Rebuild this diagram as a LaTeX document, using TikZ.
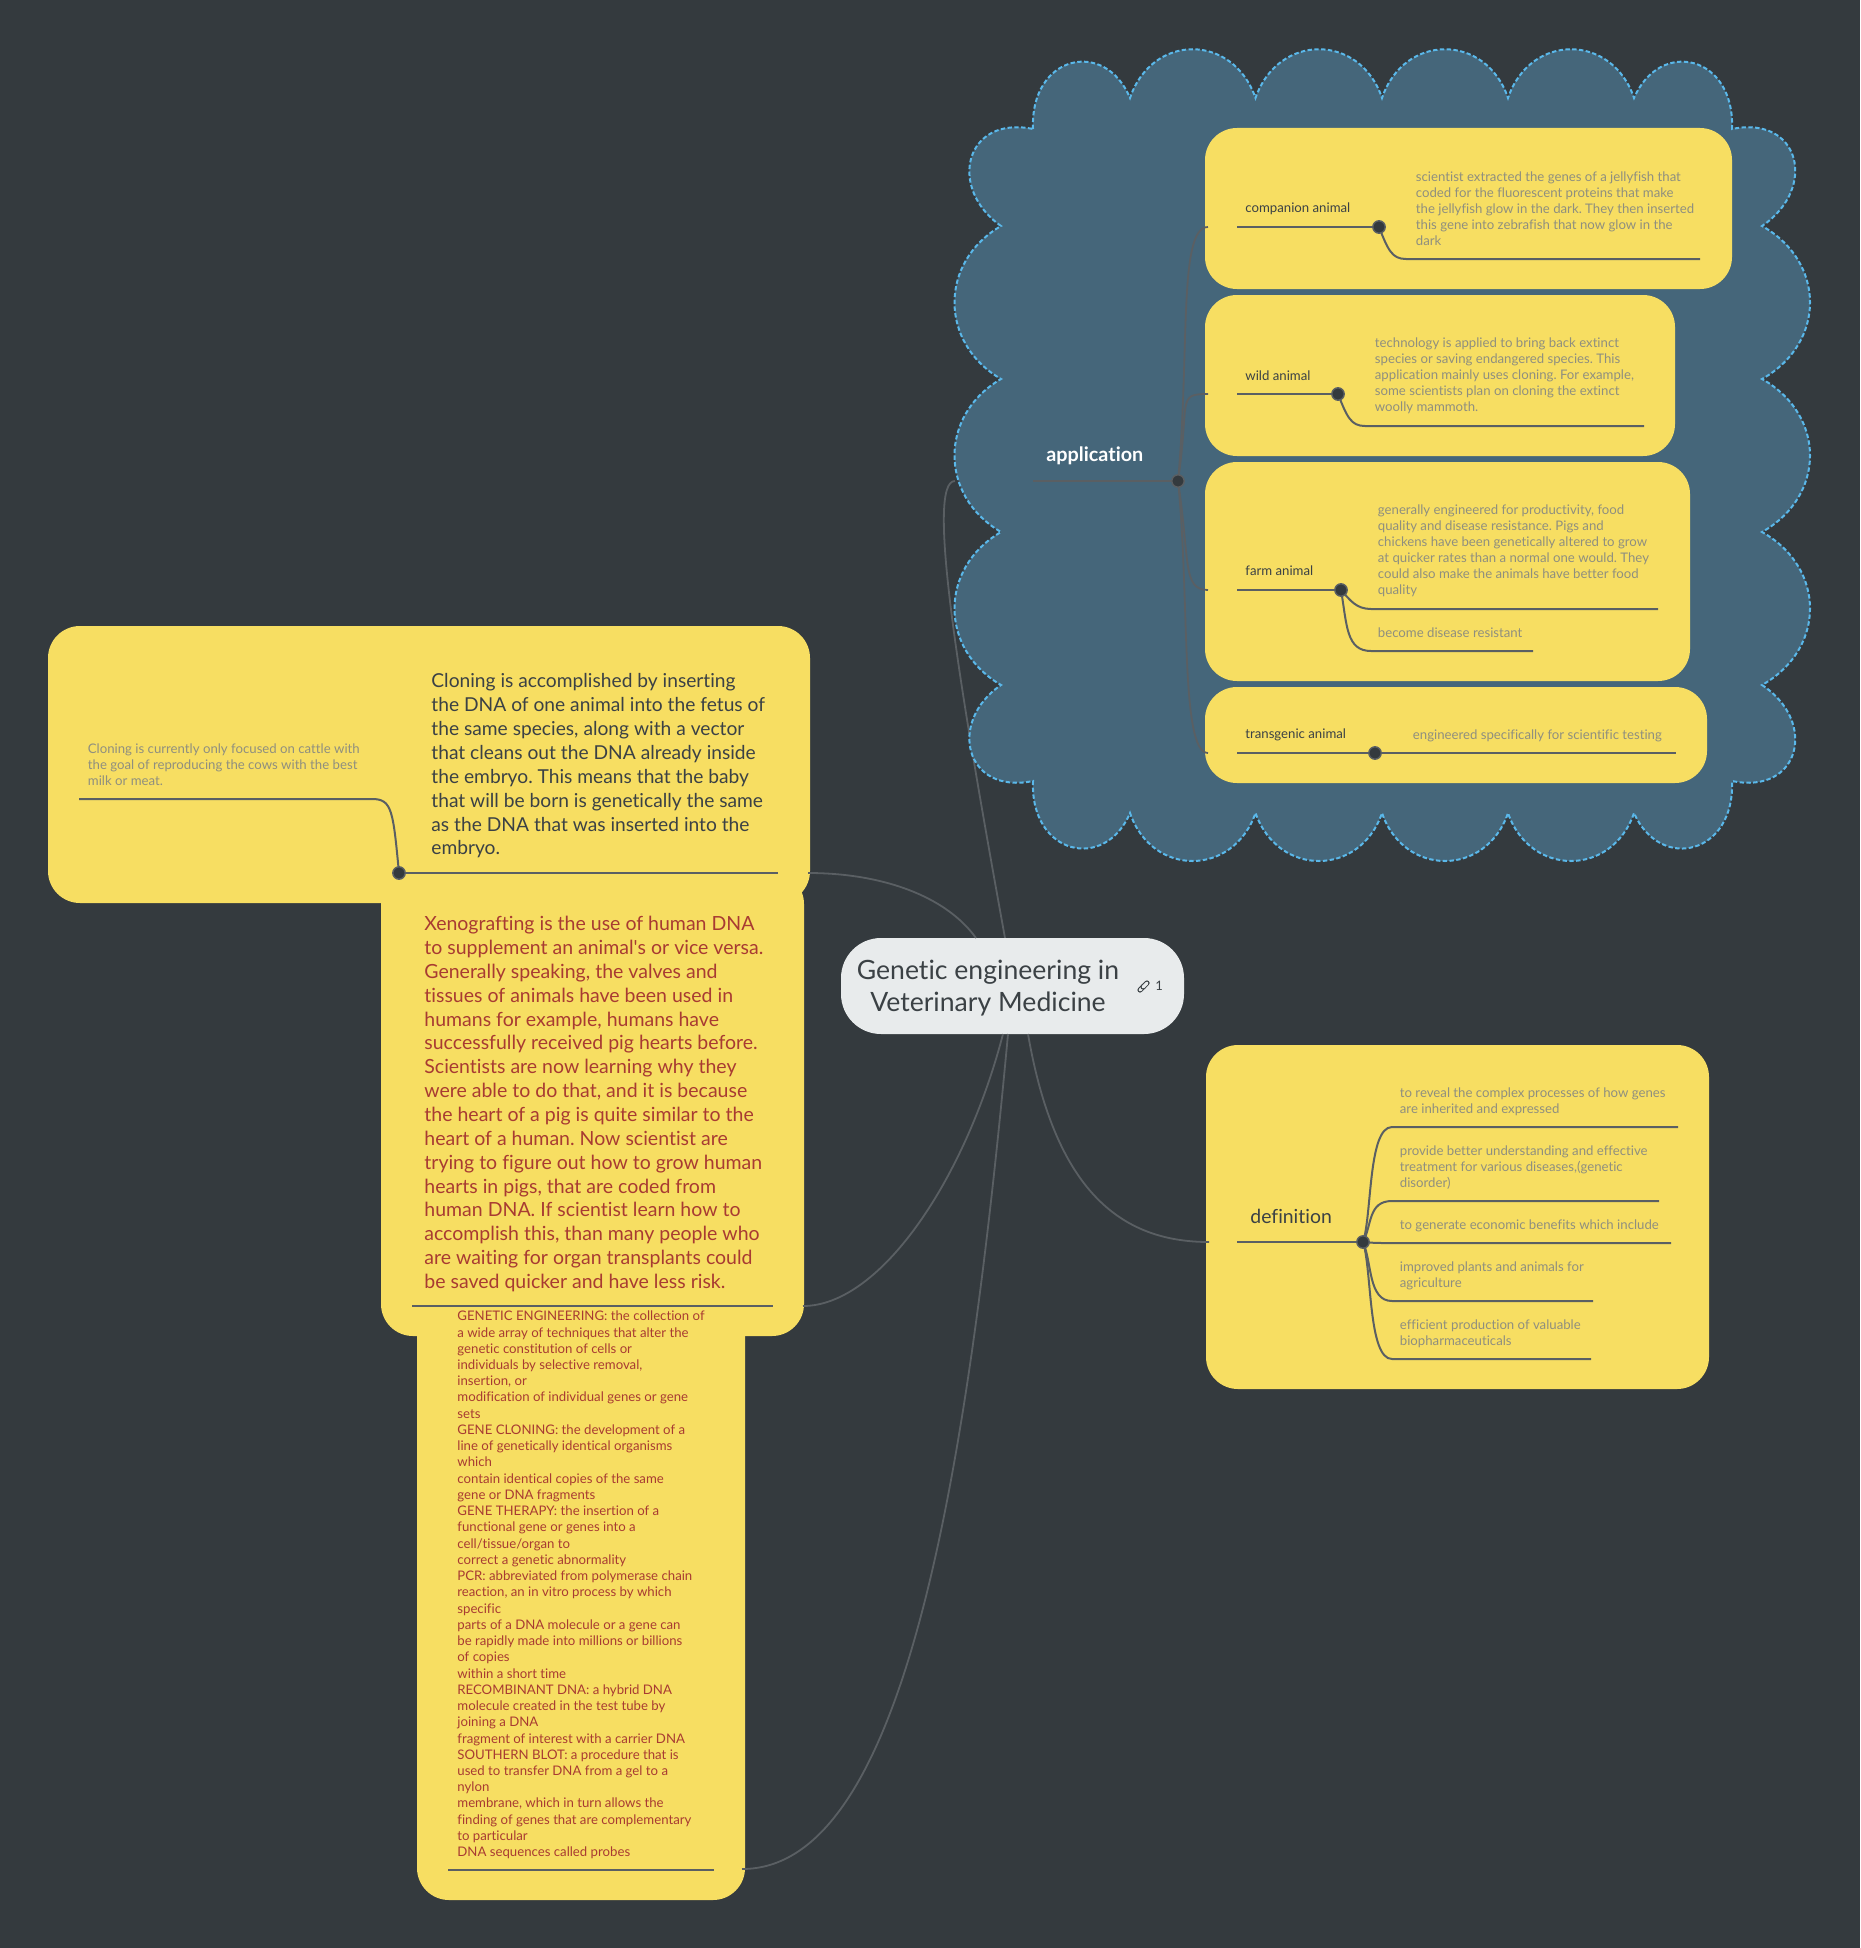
\documentclass[tikz,border=0pt]{standalone}
\usepackage{fontspec}
\setmainfont{Lato}[Ligatures=NoCommon]
\usetikzlibrary{fit}
\frenchspacing
\definecolor{bgc}{HTML}{343A3E}
\definecolor{cloudc}{HTML}{45667A}
\definecolor{dashc}{HTML}{5AB8EA}
\definecolor{yel}{HTML}{F7DE62}
\definecolor{pale}{HTML}{E8EBEC}
\definecolor{inkc}{HTML}{3B4145}
\definecolor{grayt}{HTML}{8F8F7F}
\definecolor{linec}{HTML}{5A5F63}
\definecolor{redt}{HTML}{A83B32}
\tikzset{
  x=0.5pt,y=-0.5pt,
  cardn/.style={draw=none,fill=yel,rectangle,rounded corners=16pt,inner sep=0pt},
  rootn/.style={draw=none,fill=pale,rectangle,rounded corners=20pt,inner sep=0pt},
  txt/.style={anchor=west,align=left,inner sep=0pt},
  smallt/.style={txt,text=grayt,font=\fontsize{6.6}{8}\selectfont},
  labelt/.style={txt,text=inkc,font=\fontsize{6.6}{8}\selectfont},
  bigt/.style={txt,text=inkc,font=\fontsize{9.6}{11.93}\selectfont},
  bigred/.style={txt,text=redt,font=\fontsize{9.75}{11.93}\selectfont},
  genet/.style={txt,text=redt,font=\fontsize{6.6}{8.12}\selectfont},
  main/.style={draw=linec,line width=0.9pt},
  sub/.style={draw=linec,line width=1pt},
  dotn/.style={circle,draw=linec,fill=bgc,line width=0.7pt,minimum size=6.2pt,inner sep=0pt},
}
\begin{document}
\begin{tikzpicture}
\useasboundingbox (0,0) rectangle (1860,1948);
\fill[bgc] (0,0) rectangle (1860,1948);
% named connector ends
\coordinate (rootApp) at (1005,938);
\coordinate (rootClo) at (976,938);
\coordinate (rootXen) at (1003,1034);
\coordinate (rootGen) at (1008,1034);
\coordinate (rootDef) at (1028,1034);
\coordinate (endApp) at (955,481);
\coordinate (endClo) at (808,873);
\coordinate (endXen) at (803,1306);
\coordinate (endGen) at (742,1869);
\coordinate (endDef) at (1209,1242);
% connector under the boundary
\draw[main] (rootApp) .. controls (960,690) and (925,481) .. (endApp);
% boundary cloud
\path[fill=cloudc,draw=dashc,line width=1pt,dash pattern=on 2.2pt off 1.2pt]
 (1033,129) .. controls (1030,55) and (1105,38) .. (1130,98)
 .. controls (1152,33) and (1233,33) .. (1255.5,98)
 .. controls (1278,33) and (1360,33) .. (1382,98)
 .. controls (1404,33) and (1486,33) .. (1508,98)
 .. controls (1530,33) and (1612,33) .. (1634,98)
 .. controls (1660,38) and (1735,55) .. (1732,129)
 .. controls (1800,115) and (1818,188) .. (1762,226)
 .. controls (1826,262) and (1826,343) .. (1762,379)
 .. controls (1826,415) and (1826,496) .. (1762,532)
 .. controls (1826,568) and (1826,649) .. (1762,685)
 .. controls (1818,722) and (1800,795) .. (1732,781)
 .. controls (1735,855) and (1660,872) .. (1634,813)
 .. controls (1612,877) and (1530,877) .. (1508,813)
 .. controls (1486,877) and (1404,877) .. (1382,813)
 .. controls (1360,877) and (1278,877) .. (1255.5,813)
 .. controls (1233,877) and (1152,877) .. (1130,813)
 .. controls (1105,872) and (1030,855) .. (1033,781)
 .. controls (965,795) and (947,722) .. (1001,685)
 .. controls (939,649) and (939,568) .. (1001,532)
 .. controls (939,496) and (939,415) .. (1001,379)
 .. controls (939,343) and (939,262) .. (1001,226)
 .. controls (947,188) and (965,115) .. (1033,129) -- cycle;
% cards
\node[cardn,fit={(1205,128) (1732,289)}] (cardComp) {};
\node[cardn,fit={(1205,295) (1675,456)}] (cardWild) {};
\node[cardn,fit={(1205,462) (1690,681)}] (cardFarm) {};
\node[cardn,fit={(1205,687) (1707,783)}] (cardTran) {};
\node[cardn,fit={(1206,1045) (1709,1389)}] (cardDef) {};
\node[cardn,fit={(417,1250) (745,1900)}] (cardGene) {};
\node[cardn,fit={(381,872) (804,1336)}] (cardXeno) {};
\node[cardn,fit={(48,626) (810,903)}] (cardClon) {};
\node[rootn,fit={(841,938) (1184,1034)}] (root) {};
% root connectors
\draw[main] (rootClo) .. controls (945,895) and (880,873) .. (endClo);
\draw[main] (rootXen) .. controls (965,1180) and (880,1306) .. (endXen);
\draw[main] (rootGen) .. controls (965,1500) and (900,1869) .. (endGen);
\draw[main] (rootDef) .. controls (1055,1190) and (1120,1242) .. (endDef);
% hub points
\coordinate (hubApp) at (1178,481);
\coordinate (hubComp) at (1379,227);
\coordinate (hubWild) at (1338,394);
\coordinate (hubFarm) at (1341,590);
\coordinate (hubTran) at (1375,753);
\coordinate (hubDef) at (1363,1242);
\coordinate (hubClon) at (399,873);
% application tree
\draw[main] (1033,481) -- (hubApp);
\draw[main] (hubApp) .. controls (1190,350) and (1178,227) .. (1208,227);
\draw[main] (hubApp) .. controls (1190,400) and (1176,394) .. (1208,394);
\draw[main] (hubApp) .. controls (1190,560) and (1182,590) .. (1208,590);
\draw[main] (hubApp) .. controls (1190,600) and (1180,753) .. (1208,753);
% card trees
\draw[sub] (1237,227) -- (hubComp);
\draw[sub] (hubComp) .. controls (1388,250) and (1392,259) .. (1406,259) -- (1700,259);
\draw[sub] (1237,394) -- (hubWild);
\draw[sub] (hubWild) .. controls (1347,417) and (1351,426) .. (1365,426) -- (1644,426);
\draw[sub] (1237,590) -- (hubFarm);
\draw[sub] (hubFarm) .. controls (1350,600) and (1356,609) .. (1371,609) -- (1658,609);
\draw[sub] (hubFarm) .. controls (1347,625) and (1346,651) .. (1371,651) -- (1533,651);
\draw[sub] (1237,753) -- (1676,753);
\draw[sub] (1237,1242) -- (hubDef);
\draw[sub] (hubDef) .. controls (1372,1215) and (1368,1127) .. (1392,1127) -- (1678,1127);
\draw[sub] (hubDef) .. controls (1372,1225) and (1368,1201) .. (1392,1201) -- (1659,1201);
\draw[sub] (hubDef) .. controls (1375,1243) and (1375,1243) .. (1390,1243) -- (1671,1243);
\draw[sub] (hubDef) .. controls (1372,1262) and (1368,1301) .. (1392,1301) -- (1593,1301);
\draw[sub] (hubDef) .. controls (1372,1270) and (1368,1359) .. (1392,1359) -- (1591,1359);
\draw[sub] (hubClon) -- (778,873);
\draw[sub] (hubClon) .. controls (393,810) and (392,799) .. (372,799) -- (79,799);
\draw[sub] (412,1306) -- (773,1306);
\draw[sub] (448,1870) -- (714,1870);
% hub dots
\node[dotn] (dApp) at (hubApp) {};
\node[dotn] (dComp) at (hubComp) {};
\node[dotn] (dWild) at (hubWild) {};
\node[dotn] (dFarm) at (hubFarm) {};
\node[dotn] (dTran) at (hubTran) {};
\node[dotn] (dDef) at (hubDef) {};
\node[dotn] (dClon) at (hubClon) {};
% root text
\node[anchor=center,align=center,inner sep=0pt,text=inkc,font=\fontsize{13.3}{16}\selectfont] (rootText) at (988,988) {Genetic engineering in\\Veterinary Medicine};
\draw[inkc,line width=2.6pt,line cap=round] (1140,990) -- (1144,986);
\draw[pale,line width=1.6pt,line cap=round] (1140,990) -- (1144,986);
\draw[inkc,line width=2.6pt,line cap=round] (1143,987) -- (1147,983);
\draw[pale,line width=1.6pt,line cap=round] (1143,987) -- (1147,983);
\node[txt,text=inkc,font=\fontsize{6.5}{8}\selectfont] (linkNum) at (1155,986) {1};
% application texts
\node[txt,text=white,font=\bfseries\fontsize{9.9}{12}\selectfont] (tApp) at (1046,456) {application};
\node[labelt] (tComp) at (1245,209) {companion animal};
\node[smallt] (tCompD) at (1415.5,209) {scientist extracted the genes of a jellyfish that\\coded for the fluorescent proteins that make\\the jellyfish glow in the dark. They then inserted\\this gene into zebrafish that now glow in the\\dark};
\node[labelt] (tWild) at (1245,376) {wild animal};
\node[smallt] (tWildD) at (1374.5,376) {technology is applied to bring back extinct\\species or saving endangered species. This\\application mainly uses cloning. For example,\\some scientists plan on cloning the extinct\\woolly mammoth.};
\node[labelt] (tFarm) at (1245,571) {farm animal};
\node[smallt] (tFarmD) at (1377.5,551) {generally engineered for productivity, food\\quality and disease resistance. Pigs and\\chickens have been genetically altered to grow\\at quicker rates than a normal one would. They\\could also make the animals have better food\\quality};
\node[smallt] (tFarmE) at (1377.5,633) {become disease resistant};
\node[labelt] (tTran) at (1245,735) {transgenic animal};
\node[smallt] (tTranD) at (1412.5,735.5) {engineered specifically for scientific testing};
% definition texts
\node[txt,text=inkc,font=\fontsize{9.7}{11}\selectfont] (tDef) at (1250,1216) {definition};
\node[smallt] (tDef1) at (1399.5,1102) {to reveal the complex processes of how genes\\are inherited and expressed};
\node[smallt] (tDef2) at (1399.5,1167.5) {provide better understanding and effective\\treatment for various diseases,(genetic\\disorder)};
\node[smallt] (tDef3) at (1399.5,1225.5) {to generate economic benefits which include};
\node[smallt] (tDef4) at (1399.5,1276) {improved plants and animals for\\agriculture};
\node[smallt] (tDef5) at (1399.5,1334) {efficient production of valuable\\biopharmaceuticals};
% cloning texts
\node[smallt] (tClo2) at (87.5,765) {Cloning is currently only focused on cattle with\\the goal of reproducing the cows with the best\\milk or meat.};
\node[bigt] (tClo) at (431,766) {Cloning is accomplished by inserting\\the DNA of one animal into the fetus of\\the same species, along with a vector\\that cleans out the DNA already inside\\the embryo. This means that the baby\\that will be born is genetically the same\\as the DNA that was inserted into the\\embryo.};
% xeno
\node[bigred] (tXen) at (424,1104) {Xenografting is the use of human DNA\\to supplement an animal\textquotesingle s or vice versa.\\Generally speaking, the valves and\\tissues of animals have been used in\\humans for example, humans have\\successfully received pig hearts before.\\Scientists are now learning why they\\were able to do that, and it is because\\the heart of a pig is quite similar to the\\heart of a human. Now scientist are\\trying to figure out how to grow human\\hearts in pigs, that are coded from\\human DNA. If scientist learn how to\\accomplish this, than many people who\\are waiting for organ transplants could\\be saved quicker and have less risk.};
% gene list
\node[genet] (tGen) at (457,1585) {GENETIC ENGINEERING: the collection of\\a wide array of techniques that alter the\\genetic constitution of cells or\\individuals by selective removal,\\insertion, or\\modification of individual genes or gene\\sets\\GENE CLONING: the development of a\\line of genetically identical organisms\\which\\contain identical copies of the same\\gene or DNA fragments\\GENE THERAPY: the insertion of a\\functional gene or genes into a\\cell/tissue/organ to\\correct a genetic abnormality\\PCR: abbreviated from polymerase chain\\reaction, an in vitro process by which\\specific\\parts of a DNA molecule or a gene can\\be rapidly made into millions or billions\\of copies\\within a short time\\RECOMBINANT DNA: a hybrid DNA\\molecule created in the test tube by\\joining a DNA\\fragment of interest with a carrier DNA\\SOUTHERN BLOT: a procedure that is\\used to transfer DNA from a gel to a\\nylon\\membrane, which in turn allows the\\finding of genes that are complementary\\to particular\\DNA sequences called probes};
\end{tikzpicture}
\end{document}
